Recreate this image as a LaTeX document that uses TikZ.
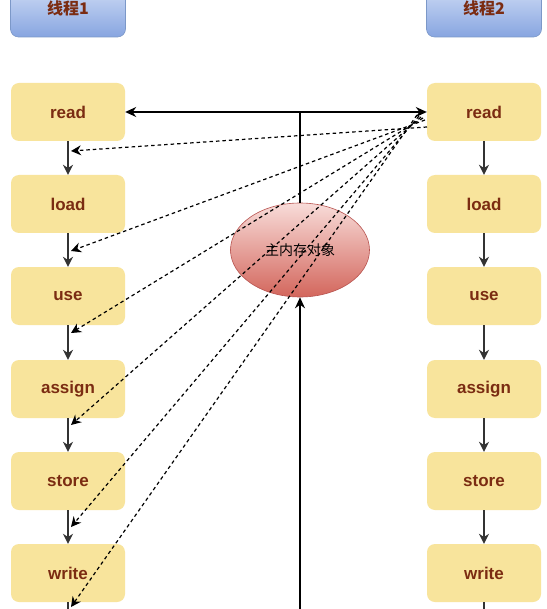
\documentclass[tikz,border=0pt]{standalone}
\usepackage{fontspec}
\setmainfont{Liberation Sans}
\newfontfamily\cjk{Noto Sans CJK SC}
\usetikzlibrary{arrows.meta,shapes.geometric}
\definecolor{boxfill}{HTML}{F8E49C}
\definecolor{txtred}{HTML}{7B2C12}
\definecolor{thrtop}{HTML}{D8E3F8}
\definecolor{thrbot}{HTML}{87A5E0}
\definecolor{thrline}{HTML}{7C98C8}
\definecolor{memtop}{HTML}{F8DCD9}
\definecolor{membot}{HTML}{D3665C}
\definecolor{memline}{HTML}{B85450}
\definecolor{lineg}{HTML}{333333}
\tikzset{
  opbox/.style={rectangle, rounded corners=8pt, fill=boxfill, draw=none,
    minimum width=114pt, minimum height=58pt, inner sep=0pt,
    font=\fontsize{17}{20}\selectfont\bfseries, text=txtred},
  thrbox/.style={rectangle, rounded corners=8pt, top color=thrtop, bottom color=thrbot,
    draw=thrline, line width=0.6pt, minimum width=115pt, minimum height=58pt, inner sep=0pt,
    font=\cjk\bfseries\fontsize{16}{18}\selectfont, text=txtred},
  flow/.style={draw=lineg, line width=1.4pt, -{Stealth[length=10pt,width=10pt]}},
  solidarr/.style={draw=black, line width=1.4pt, -{Stealth[length=11pt,width=10pt]}},
  dasharr/.style={draw=black, line width=1.2pt, dash pattern=on 3.5pt off 3pt,
    -{Stealth[length=10pt,width=10pt]}},
}
\begin{document}
\begin{tikzpicture}[x=1pt,y=-1pt]
\useasboundingbox (0,0) rectangle (546,609);
\fill[white] (0,0) rectangle (546,609);
\clip (0,0) rectangle (546,609);
% thread headers
\node[thrbox] (t1) at (68,8) {线程1};
\node[thrbox] (t2) at (484,8) {线程2};
% left column
\node[opbox] (L1) at (68,112) {read};
\node[opbox] (L2) at (68,204) {load};
\node[opbox] (L3) at (68,296) {use};
\node[opbox] (L4) at (68,389) {assign};
\node[opbox] (L5) at (68,481) {store};
\node[opbox] (L6) at (68,573) {write};
% right column
\node[opbox] (R1) at (484,112) {read};
\node[opbox] (R2) at (484,204) {load};
\node[opbox] (R3) at (484,296) {use};
\node[opbox] (R4) at (484,389) {assign};
\node[opbox] (R5) at (484,481) {store};
\node[opbox] (R6) at (484,573) {write};
% main memory
\node[ellipse, minimum width=139pt, minimum height=94pt, inner sep=0pt,
  top color=memtop, bottom color=membot, draw=memline, line width=0.6pt,
  font=\cjk\fontsize{14}{16}\selectfont] (mem) at (300,250) {主内存对象};
% vertical flows
\foreach \a/\b in {L1/L2,L2/L3,L3/L4,L4/L5,L5/L6,R1/R2,R2/R3,R3/R4,R4/R5,R5/R6}
  \draw[flow] (\a.south) -- (\b.north);
\coordinate (Lend) at (68,620);
\coordinate (Rend) at (484,620);
\draw[draw=lineg, line width=1.4pt] (L6.south) -- (Lend);
\draw[draw=lineg, line width=1.4pt] (R6.south) -- (Rend);
% memory connections
\coordinate (mbot) at (300,620);
\draw[solidarr] (mbot) -- (mem.south);
\draw[solidarr] (mem.north) |- (L1.east);
\draw[solidarr] (mem.north) |- (R1.west);
% dashed arrows from right read to left column
\coordinate (s1) at (427,127);
\coordinate (s2) at (425,120);
\coordinate (s3) at (423,118);
\coordinate (s4) at (421,117);
\coordinate (s5) at (419,116);
\coordinate (s6) at (417,115);
\coordinate (d1) at (71,151);
\coordinate (d2) at (71,251);
\coordinate (d3) at (71,333);
\coordinate (d4) at (71,425);
\coordinate (d5) at (71,527);
\coordinate (d6) at (71,607);
\draw[dasharr] (s1) -- (d1);
\draw[dasharr] (s2) -- (d2);
\draw[dasharr] (s3) -- (d3);
\draw[dasharr] (s4) -- (d4);
\draw[dasharr] (s5) -- (d5);
\draw[dasharr] (s6) -- (d6);
\end{tikzpicture}
\end{document}
